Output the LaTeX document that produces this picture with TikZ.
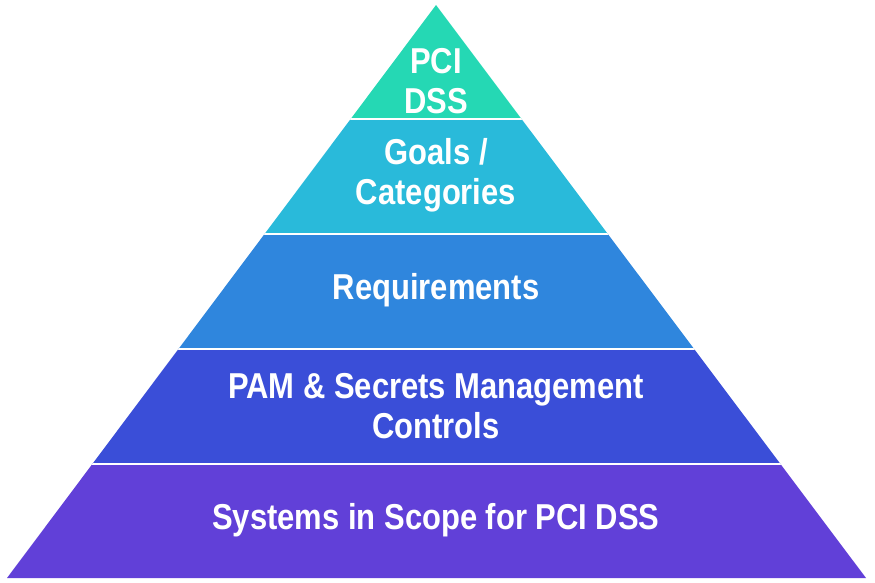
\documentclass[tikz,border=0pt]{standalone}
\usepackage{fontspec}
\setmainfont{Liberation Sans}[FakeStretch=0.86]
\definecolor{c1}{HTML}{25D8B4}
\definecolor{c2}{HTML}{29BADA}
\definecolor{c3}{HTML}{2F86DD}
\definecolor{c4}{HTML}{3A4ED8}
\definecolor{c5}{HTML}{6140D8}
\tikzset{lbl/.style={text=white,font=\fontsize{36}{40}\selectfont\bfseries,align=center}}
\begin{document}
\begin{tikzpicture}[x=1pt,y=-1pt]
\useasboundingbox (0,0) rectangle (875,583);
\begin{scope}
\clip (436,5) -- (866,578) -- (7,578) -- cycle;
\fill[c1] (0,0) rectangle (875,119);
\fill[c2] (0,119) rectangle (875,234);
\fill[c3] (0,234) rectangle (875,349);
\fill[c4] (0,349) rectangle (875,464);
\fill[c5] (0,464) rectangle (875,583);
\foreach \y in {119,234,349,464} \draw[white,line width=1.2pt] (0,\y) -- (875,\y);
\end{scope}
\node[lbl] (a) at (436,81) {PCI\\DSS};
\node[lbl] (b) at (436,175) {Goals /\\Categories};
\node[lbl] (c) at (436,290) {Requirements};
\node[lbl] (d) at (436,406) {PAM \& Secrets Management\\Controls};
\node[lbl] (e) at (436,520) {Systems in Scope for PCI DSS};
\end{tikzpicture}
\end{document}
